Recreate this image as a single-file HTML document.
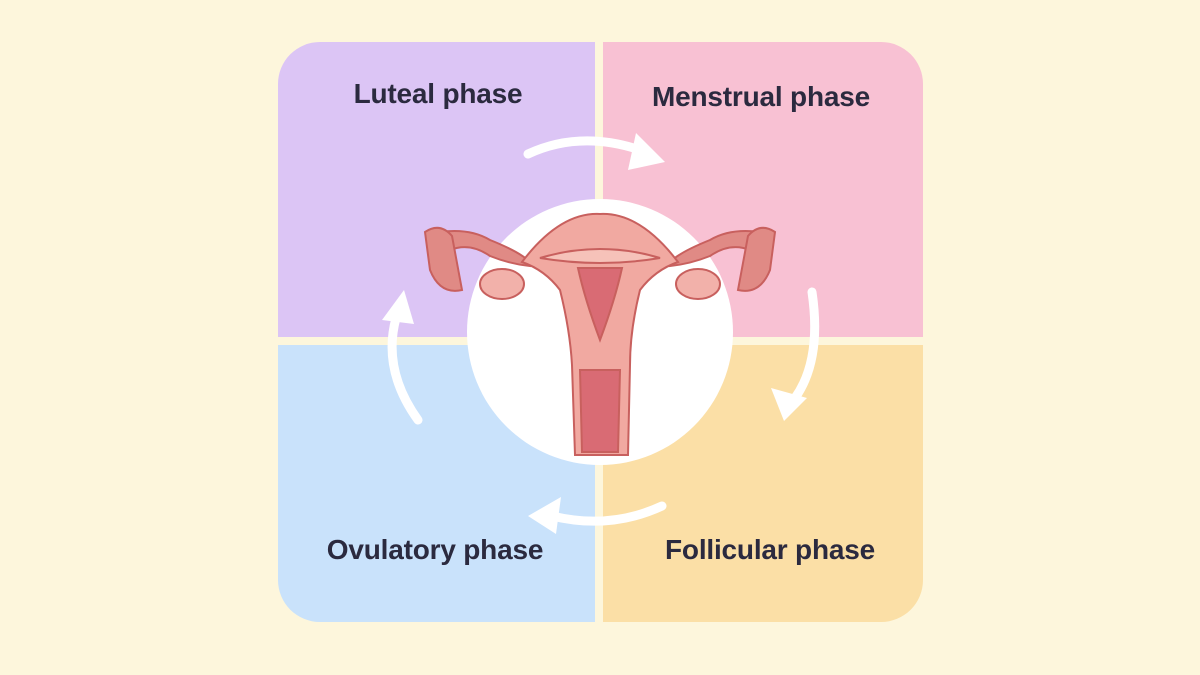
<!DOCTYPE html>
<html><head><meta charset="utf-8"><style>
html,body{margin:0;padding:0;background:#fdf6dc;}
body{width:1200px;height:675px;position:relative;overflow:hidden;font-family:"Liberation Sans",Arial,sans-serif;}
.t{position:absolute;font-weight:bold;font-size:28px;color:#2b2a3f;white-space:nowrap;transform:translateX(-50%);letter-spacing:-0.2px;}
</style></head><body>
<svg width="1200" height="675" style="position:absolute;left:0;top:0">
<defs><clipPath id="c"><rect x="278" y="42" width="645" height="580" rx="42"/></clipPath></defs>
<g clip-path="url(#c)">
<rect x="278" y="42" width="317" height="295" fill="#dcc5f5"/>
<rect x="603" y="42" width="320" height="295" fill="#f8c1d3"/>
<rect x="278" y="345" width="317" height="277" fill="#c9e2fb"/>
<rect x="603" y="345" width="320" height="277" fill="#fbdfa6"/>
</g>
<circle cx="600" cy="332" r="133" fill="#fff"/>
<g fill="none" stroke="#fff" stroke-width="9" stroke-linecap="round">
<path d="M528 154 Q580 130 640 150"/>
<path d="M812 292 Q822 360 795 398"/>
<path d="M662 506 Q610 530 552 516"/>
<path d="M418 420 Q382 370 396 318"/>
</g>
<g fill="#fff">
<polygon points="665,162 636,133 628,170"/>
<polygon points="784,421 771,388 807,398"/>
<polygon points="528,516 561,497 556,534"/>
<polygon points="404,290 382,320 414,324"/>
</g>
<g stroke="#c8605e" stroke-width="2">
<path d="M530 262 Q520 252 490 240 Q470 228 440 232 Q440 248 450 250 Q470 242 490 256 Q510 264 530 266Z" fill="#e08a85"/>
<path d="M670 262 Q680 252 710 240 Q730 228 760 232 Q760 248 750 250 Q730 242 710 256 Q690 264 670 266Z" fill="#e08a85"/>
<path d="M425 232 Q440 222 452 236 L462 290 Q440 295 430 270Z" fill="#e08a85"/>
<path d="M775 232 Q760 222 748 236 L738 290 Q760 295 770 270Z" fill="#e08a85"/>
<ellipse cx="502" cy="284" rx="22" ry="15" fill="#f2b1aa"/>
<ellipse cx="698" cy="284" rx="22" ry="15" fill="#f2b1aa"/>
<path d="M522 262 Q560 212 600 214 Q640 212 678 262 Q655 270 640 290 Q630 330 630 365 L628 455 L575 455 L572 365 Q570 330 560 290 Q545 270 522 262Z" fill="#f1a9a1"/>
<path d="M540 258 Q600 240 660 258 Q600 268 540 258Z" fill="#f6c2b9"/>
<path d="M578 268 L622 268 Q615 300 600 340 Q585 300 578 268Z" fill="#d96b74"/>
<path d="M580 370 L620 370 L618 452 L582 452Z" fill="#d96b74"/>
</g>
</svg>
<div class="t" style="left:438px;top:78px">Luteal phase</div>
<div class="t" style="left:761px;top:81px">Menstrual phase</div>
<div class="t" style="left:435px;top:534px">Ovulatory phase</div>
<div class="t" style="left:770px;top:534px">Follicular phase</div>
</body></html>
